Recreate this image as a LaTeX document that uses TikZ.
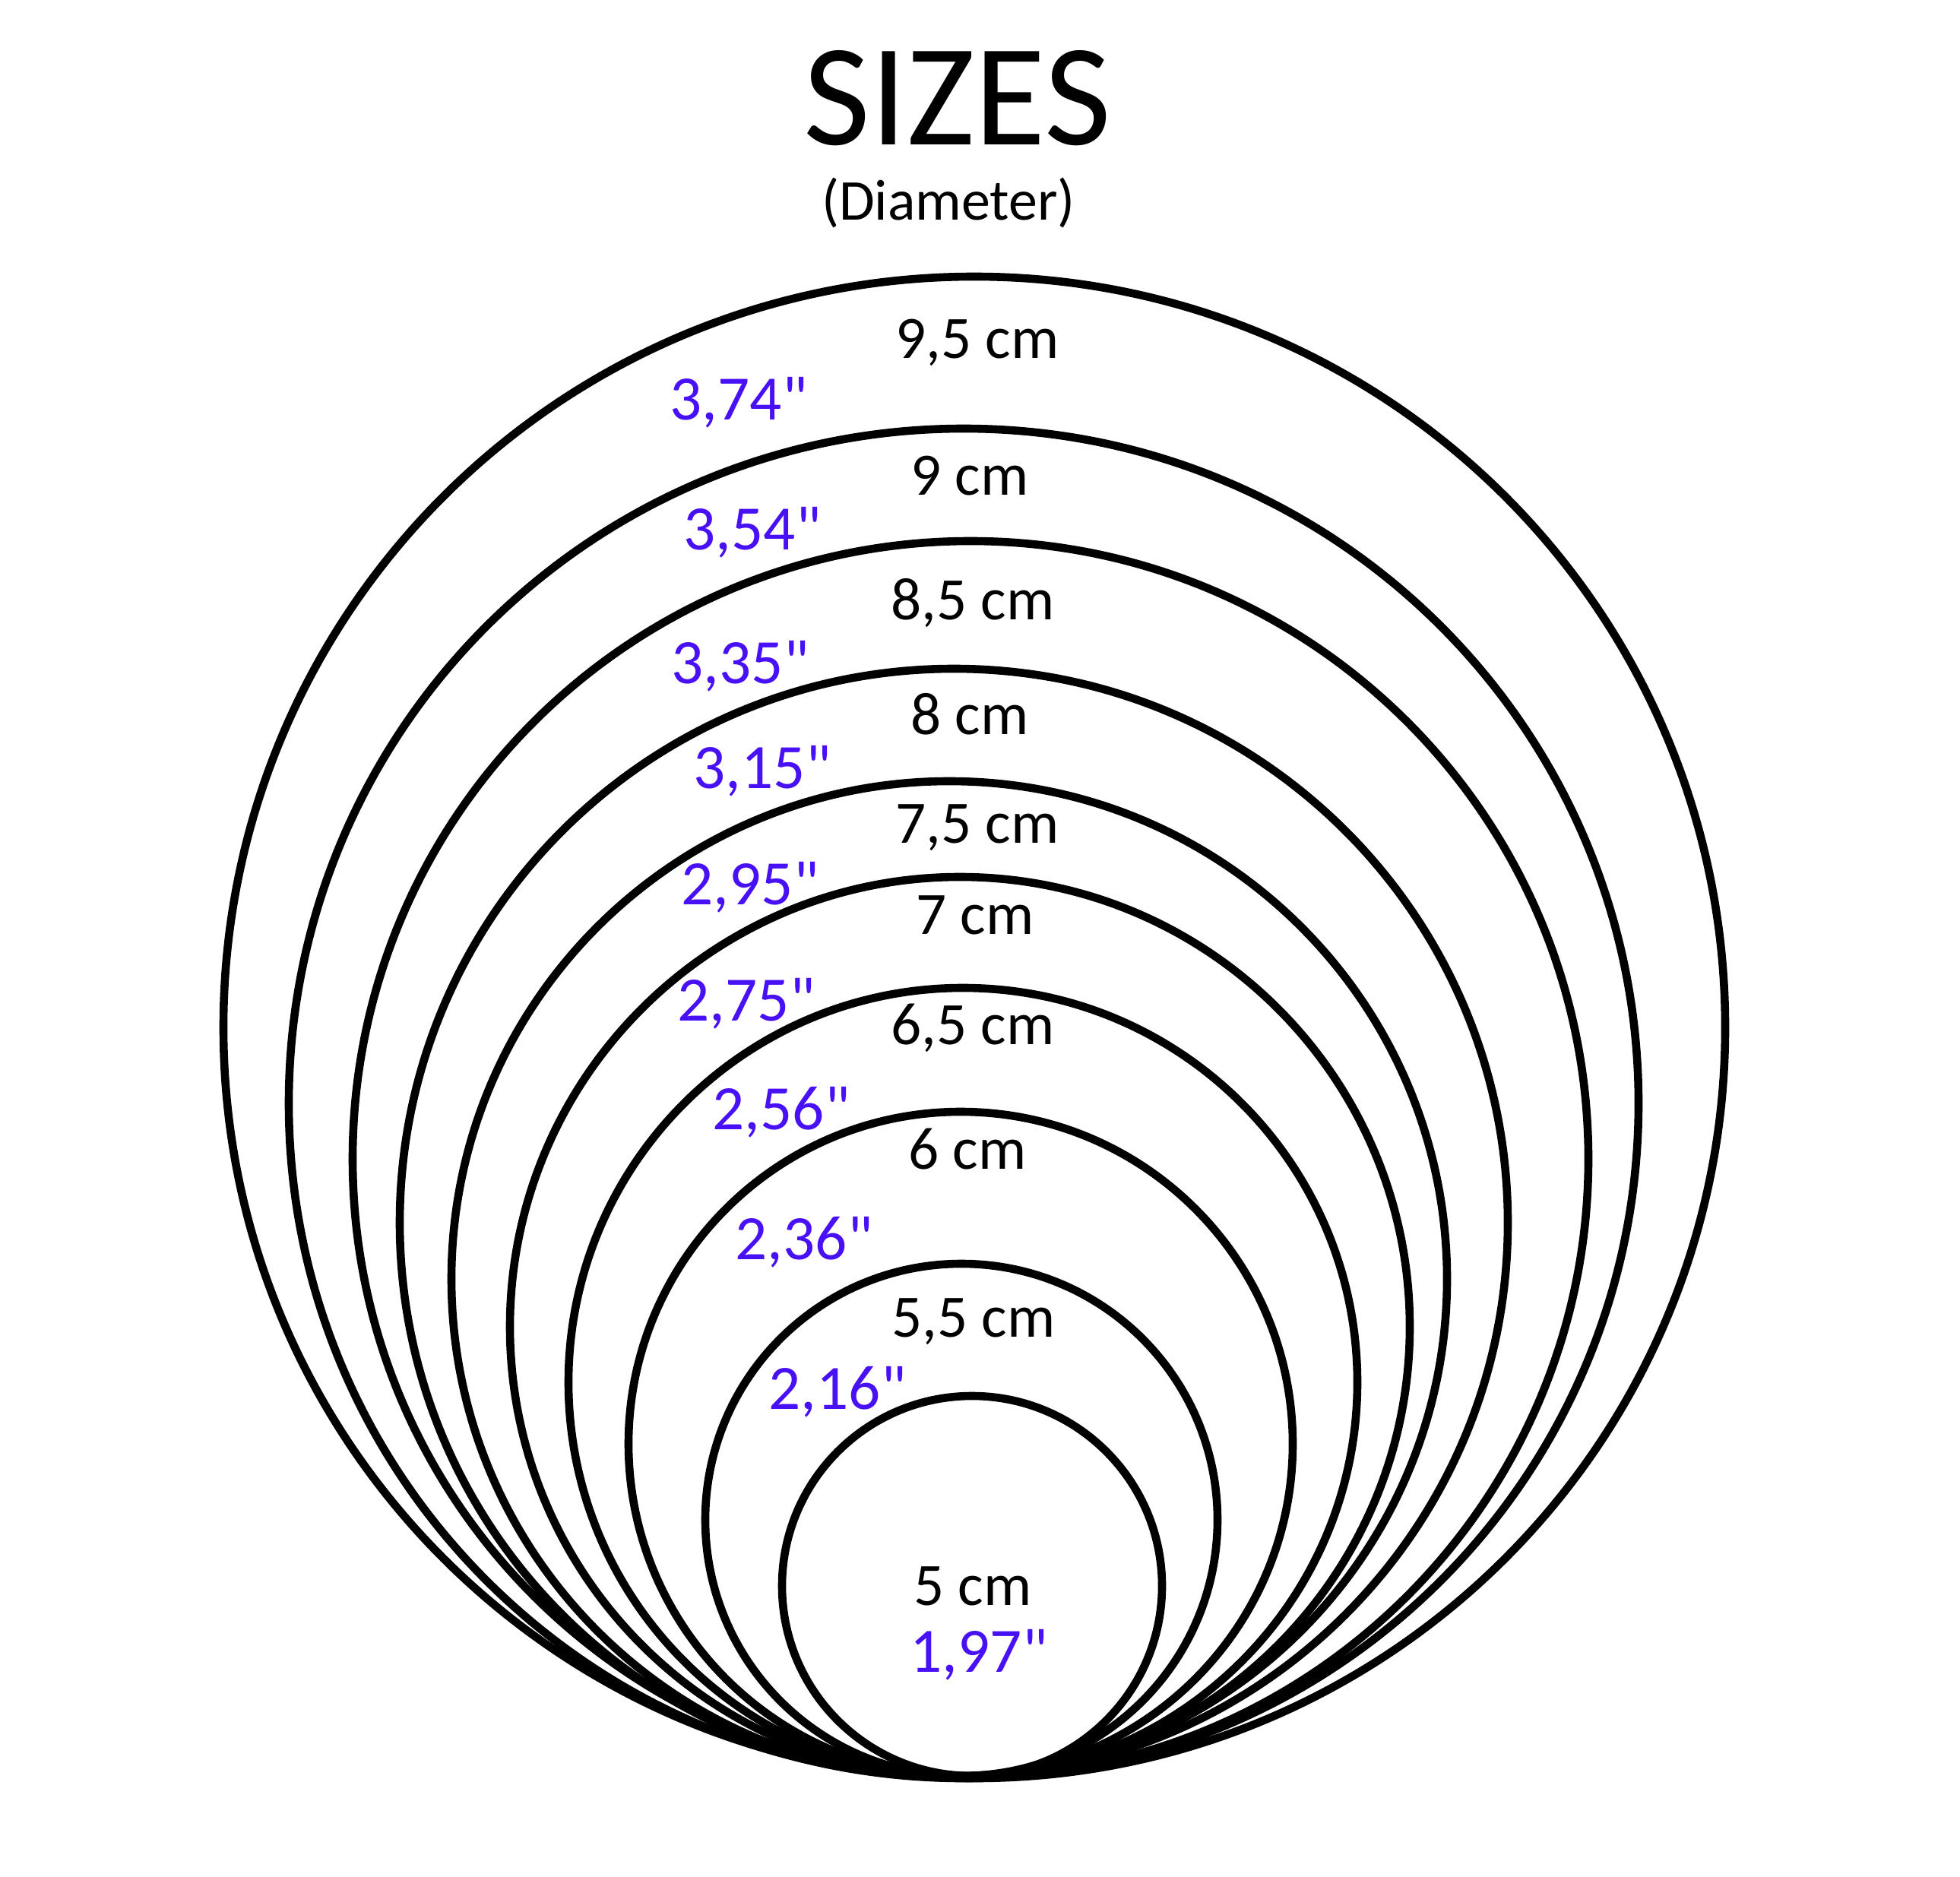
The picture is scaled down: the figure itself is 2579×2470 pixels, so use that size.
\documentclass[tikz,border=0pt]{standalone}
\usepackage{fontspec}
\newfontfamily\cfont{Carlito}
\definecolor{inchblue}{RGB}{72,16,245}
\begin{document}
\begin{tikzpicture}[x=0.25pt,y=-0.25pt,
  ring/.style={draw=black,line width=2.65pt},
  cmlabel/.style={inner sep=0pt,anchor=base,font=\cfont\fontsize{19.8pt}{22pt}\selectfont},
  inlabel/.style={inner sep=0pt,anchor=base,text=inchblue,font=\cfont\fontsize{20.8pt}{23pt}\selectfont}]
\useasboundingbox (0,0) rectangle (2579,2470);
% title
\node[inner sep=0pt,anchor=base,font=\cfont\fontsize{47.8pt}{50pt}\selectfont] (title) at (1260,191) {SIZES};
\node[inner sep=0pt,anchor=base,font=\cfont\fontsize{19pt}{21pt}\selectfont] (subtitle) at (1248,290) {(Diameter)};
% rings
\draw[ring] (1282,1352) circle[radius=988];
\draw[ring] (1268,1452) circle[radius=888];
\draw[ring] (1277,1525) circle[radius=813];
\draw[ring] (1255,1609) circle[radius=729];
\draw[ring] (1249,1683) circle[radius=655];
\draw[ring] (1263,1746) circle[radius=592];
\draw[ring] (1267,1819) circle[radius=519];
\draw[ring] (1264,1900) circle[radius=437];
\draw[ring] (1265,2000) circle[radius=337];
\draw[ring] (1279,2087) circle[radius=250];
% labels
\node[cmlabel] (c95) at (1286,472) {9,5 cm};
\node[inlabel] (i95) at (972,553) {3,74"};
\node[cmlabel] (c90) at (1276,652) {9 cm};
\node[inlabel] (i90) at (990,724) {3,54"};
\node[cmlabel] (c85) at (1280,816) {8,5 cm};
\node[inlabel] (i85) at (974,899) {3,35"};
\node[cmlabel] (c80) at (1276,966) {8 cm};
\node[inlabel] (i80) at (1003,1037) {3,15"};
\node[cmlabel] (c75) at (1286,1109) {7,5 cm};
\node[inlabel] (i75) at (987,1190) {2,95"};
\node[cmlabel] (c70) at (1283,1229) {7 cm};
\node[inlabel] (i70) at (982,1343) {2,75"};
\node[cmlabel] (c65) at (1280,1374) {6,5 cm};
\node[inlabel] (i65) at (1028,1486) {2,56"};
\node[cmlabel] (c60) at (1273,1538) {6 cm};
\node[inlabel] (i60) at (1058,1657) {2,36"};
\node[cmlabel] (c55) at (1281,1759) {5,5 cm};
\node[inlabel] (i55) at (1102,1854) {2,16"};
\node[cmlabel] (c50) at (1280,2112) {5 cm};
\node[inlabel] (i50) at (1288,2200) {1,97"};
\end{tikzpicture}
\end{document}
